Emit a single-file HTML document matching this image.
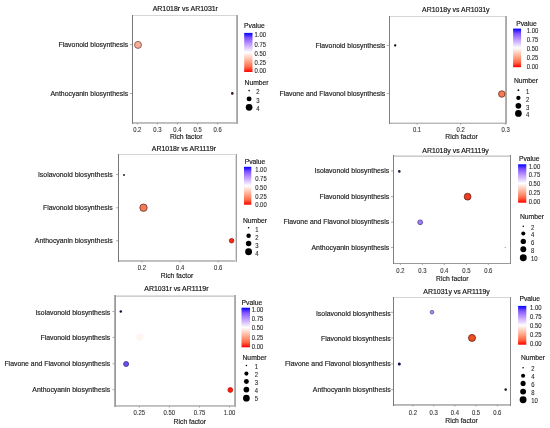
<!DOCTYPE html>
<html><head><meta charset="utf-8"><style>
html,body{margin:0;padding:0;background:#fff;}
body{width:550px;height:428px;overflow:hidden;}
svg{display:block;font-family:"Liberation Sans", Arial, sans-serif;}
</style></head><body>
<svg width="550" height="428" viewBox="0 0 550 428">
<rect width="550" height="428" fill="#fff"/>
<defs><linearGradient id="g" x1="0" y1="1" x2="0" y2="0"><stop offset="0" stop-color="#ff0000"/><stop offset="0.125" stop-color="#ff6846"/><stop offset="0.25" stop-color="#ff9e81"/><stop offset="0.375" stop-color="#ffcfbf"/><stop offset="0.5" stop-color="#ffffff"/><stop offset="0.625" stop-color="#dcc4ff"/><stop offset="0.75" stop-color="#b38bff"/><stop offset="0.875" stop-color="#7e52ff"/><stop offset="1" stop-color="#0000ff"/></linearGradient><filter id="bl" x="-5%" y="-20%" width="110%" height="140%"><feGaussianBlur stdDeviation="0.28"/></filter></defs>
<g><rect x="132" y="15" width="106" height="1" fill="#d6d6d6"/><rect x="132" y="122" width="106" height="1" fill="#bdbdbd"/><rect x="132" y="123" width="106" height="1" fill="#c4c4c4"/><rect x="236" y="15" width="1" height="109" fill="#b4b4b4"/><rect x="237" y="15" width="1" height="109" fill="#a4a4a4"/><rect x="132" y="15" width="1" height="109" fill="#777"/></g>
<g filter="url(#bl)"><text transform="translate(185.3 11.4) scale(0.9091 1)" font-size="7.65" text-anchor="middle" fill="#111" stroke="#111" stroke-width="0.18">AR1018r vs AR1031r</text><text transform="translate(128.3 46.63) scale(0.9091 1)" font-size="7.59" text-anchor="end" fill="#1a1a1a" stroke="#1a1a1a" stroke-width="0.18">Flavonoid biosynthesis</text><line x1="130" y1="44.6" x2="132" y2="44.6" stroke="#888" stroke-width="0.7"/><text transform="translate(128.3 95.53) scale(0.9091 1)" font-size="7.59" text-anchor="end" fill="#1a1a1a" stroke="#1a1a1a" stroke-width="0.18">Anthocyanin biosynthesis</text><line x1="130" y1="93.5" x2="132" y2="93.5" stroke="#888" stroke-width="0.7"/><line x1="137.3" y1="123" x2="137.3" y2="124.5" stroke="#888" stroke-width="0.7"/><text transform="translate(137.3 132.21) scale(0.9091 1)" font-size="6.49" text-anchor="middle" fill="#3a3a3a" stroke="#3a3a3a" stroke-width="0.12">0.2</text><line x1="157.4" y1="123" x2="157.4" y2="124.5" stroke="#888" stroke-width="0.7"/><text transform="translate(157.4 132.21) scale(0.9091 1)" font-size="6.49" text-anchor="middle" fill="#3a3a3a" stroke="#3a3a3a" stroke-width="0.12">0.3</text><line x1="177.4" y1="123" x2="177.4" y2="124.5" stroke="#888" stroke-width="0.7"/><text transform="translate(177.4 132.21) scale(0.9091 1)" font-size="6.49" text-anchor="middle" fill="#3a3a3a" stroke="#3a3a3a" stroke-width="0.12">0.4</text><line x1="197.6" y1="123" x2="197.6" y2="124.5" stroke="#888" stroke-width="0.7"/><text transform="translate(197.6 132.21) scale(0.9091 1)" font-size="6.49" text-anchor="middle" fill="#3a3a3a" stroke="#3a3a3a" stroke-width="0.12">0.5</text><line x1="217.6" y1="123" x2="217.6" y2="124.5" stroke="#888" stroke-width="0.7"/><text transform="translate(217.6 132.21) scale(0.9091 1)" font-size="6.49" text-anchor="middle" fill="#3a3a3a" stroke="#3a3a3a" stroke-width="0.12">0.6</text><text transform="translate(186.2 139.04) scale(0.9091 1)" font-size="7.48" text-anchor="middle" fill="#1a1a1a" stroke="#1a1a1a" stroke-width="0.18">Rich factor</text><circle cx="138" cy="44.9" r="3.5" fill="#f8ad97" stroke="#7a4a40" stroke-width="0.8"/><circle cx="232.3" cy="93.4" r="1.3" fill="#3a0a1a"/><text transform="translate(244 28.32) scale(0.9091 1)" font-size="7.43" fill="#111" stroke="#111" stroke-width="0.15">Pvalue</text><rect x="244.2" y="32.9" width="8.3" height="39.1" fill="url(#g)"/><text transform="translate(254.6 37.01) scale(0.9091 1)" font-size="6.49" fill="#2a2a2a" stroke="#2a2a2a" stroke-width="0.1">1.00</text><text transform="translate(254.6 46.51) scale(0.9091 1)" font-size="6.49" fill="#2a2a2a" stroke="#2a2a2a" stroke-width="0.1">0.75</text><text transform="translate(254.6 56.01) scale(0.9091 1)" font-size="6.49" fill="#2a2a2a" stroke="#2a2a2a" stroke-width="0.1">0.50</text><text transform="translate(254.6 65.21) scale(0.9091 1)" font-size="6.49" fill="#2a2a2a" stroke="#2a2a2a" stroke-width="0.1">0.25</text><text transform="translate(254.6 72.91) scale(0.9091 1)" font-size="6.49" fill="#2a2a2a" stroke="#2a2a2a" stroke-width="0.1">0.00</text><text transform="translate(244.6 85.02) scale(0.9091 1)" font-size="7.43" fill="#111" stroke="#111" stroke-width="0.15">Number</text><circle cx="249.1" cy="90.6" r="0.8" fill="#000"/><text transform="translate(256.2 94.31) scale(0.9091 1)" font-size="6.49" fill="#2a2a2a" stroke="#2a2a2a" stroke-width="0.1">2</text><circle cx="249.1" cy="98.9" r="2.45" fill="#000"/><text transform="translate(256.2 102.61) scale(0.9091 1)" font-size="6.49" fill="#2a2a2a" stroke="#2a2a2a" stroke-width="0.1">3</text><circle cx="249.1" cy="107.3" r="3.35" fill="#000"/><text transform="translate(256.2 111.01) scale(0.9091 1)" font-size="6.49" fill="#2a2a2a" stroke="#2a2a2a" stroke-width="0.1">4</text></g>
<g><rect x="389" y="16" width="118" height="1" fill="#d6d6d6"/><rect x="389" y="122" width="118" height="1" fill="#e0e0e0"/><rect x="389" y="123" width="118" height="1" fill="#b8b8b8"/><rect x="505" y="16" width="1" height="108" fill="#b0b0b0"/><rect x="506" y="16" width="1" height="108" fill="#aaaaaa"/><rect x="389" y="16" width="1" height="108" fill="#808080"/></g>
<g filter="url(#bl)"><text transform="translate(455.8 12.4) scale(0.9091 1)" font-size="7.65" text-anchor="middle" fill="#111" stroke="#111" stroke-width="0.18">AR1018y vs AR1031y</text><text transform="translate(385.3 48.23) scale(0.9091 1)" font-size="7.59" text-anchor="end" fill="#1a1a1a" stroke="#1a1a1a" stroke-width="0.18">Flavonoid biosynthesis</text><line x1="387" y1="45.4" x2="389" y2="45.4" stroke="#888" stroke-width="0.7"/><text transform="translate(385.3 95.63) scale(0.9091 1)" font-size="7.59" text-anchor="end" fill="#1a1a1a" stroke="#1a1a1a" stroke-width="0.18">Flavone and Flavonol biosynthesis</text><line x1="387" y1="93.6" x2="389" y2="93.6" stroke="#888" stroke-width="0.7"/><line x1="417" y1="123.3" x2="417" y2="124.8" stroke="#888" stroke-width="0.7"/><text transform="translate(417 131.91) scale(0.9091 1)" font-size="6.49" text-anchor="middle" fill="#3a3a3a" stroke="#3a3a3a" stroke-width="0.12">0.1</text><line x1="460.7" y1="123.3" x2="460.7" y2="124.8" stroke="#888" stroke-width="0.7"/><text transform="translate(460.7 131.91) scale(0.9091 1)" font-size="6.49" text-anchor="middle" fill="#3a3a3a" stroke="#3a3a3a" stroke-width="0.12">0.2</text><line x1="505.6" y1="123.3" x2="505.6" y2="124.8" stroke="#888" stroke-width="0.7"/><text transform="translate(505.6 131.91) scale(0.9091 1)" font-size="6.49" text-anchor="middle" fill="#3a3a3a" stroke="#3a3a3a" stroke-width="0.12">0.3</text><text transform="translate(461.5 138.84) scale(0.9091 1)" font-size="7.48" text-anchor="middle" fill="#1a1a1a" stroke="#1a1a1a" stroke-width="0.18">Rich factor</text><circle cx="395.2" cy="45.4" r="1.15" fill="#000000"/><circle cx="501.8" cy="94" r="3.25" fill="#f47a55" stroke="#6a3020" stroke-width="0.8"/><text transform="translate(516.2 25.52) scale(0.9091 1)" font-size="7.43" fill="#111" stroke="#111" stroke-width="0.15">Pvalue</text><rect x="513.1" y="28.6" width="8" height="38.6" fill="url(#g)"/><text transform="translate(526.8 32.91) scale(0.9091 1)" font-size="6.49" fill="#2a2a2a" stroke="#2a2a2a" stroke-width="0.1">1.00</text><text transform="translate(526.8 42.21) scale(0.9091 1)" font-size="6.49" fill="#2a2a2a" stroke="#2a2a2a" stroke-width="0.1">0.75</text><text transform="translate(526.8 51.31) scale(0.9091 1)" font-size="6.49" fill="#2a2a2a" stroke="#2a2a2a" stroke-width="0.1">0.50</text><text transform="translate(526.8 60.41) scale(0.9091 1)" font-size="6.49" fill="#2a2a2a" stroke="#2a2a2a" stroke-width="0.1">0.25</text><text transform="translate(526.8 68.81) scale(0.9091 1)" font-size="6.49" fill="#2a2a2a" stroke="#2a2a2a" stroke-width="0.1">0.00</text><text transform="translate(513.9 83.42) scale(0.9091 1)" font-size="7.43" fill="#111" stroke="#111" stroke-width="0.15">Number</text><circle cx="518.4" cy="90.2" r="0.9" fill="#000"/><text transform="translate(526 93.91) scale(0.9091 1)" font-size="6.49" fill="#2a2a2a" stroke="#2a2a2a" stroke-width="0.1">1</text><circle cx="518.4" cy="97.9" r="2.15" fill="#000"/><text transform="translate(526 101.61) scale(0.9091 1)" font-size="6.49" fill="#2a2a2a" stroke="#2a2a2a" stroke-width="0.1">2</text><circle cx="518.4" cy="105.8" r="2.85" fill="#000"/><text transform="translate(526 109.51) scale(0.9091 1)" font-size="6.49" fill="#2a2a2a" stroke="#2a2a2a" stroke-width="0.1">3</text><circle cx="518.4" cy="113.4" r="3.35" fill="#000"/><text transform="translate(526 117.11) scale(0.9091 1)" font-size="6.49" fill="#2a2a2a" stroke="#2a2a2a" stroke-width="0.1">4</text></g>
<g><rect x="118" y="154" width="119" height="1" fill="#d6d6d6"/><rect x="118" y="260" width="119" height="1" fill="#bdbdbd"/><rect x="118" y="261" width="119" height="1" fill="#c4c4c4"/><rect x="235" y="154" width="1" height="108" fill="#dddddd"/><rect x="236" y="154" width="1" height="108" fill="#a0a0a0"/><rect x="118" y="154" width="1" height="108" fill="#777"/></g>
<g filter="url(#bl)"><text transform="translate(183.9 151.4) scale(0.9091 1)" font-size="7.65" text-anchor="middle" fill="#111" stroke="#111" stroke-width="0.18">AR1018r vs AR1119r</text><text transform="translate(112.7 176.63) scale(0.9091 1)" font-size="7.59" text-anchor="end" fill="#1a1a1a" stroke="#1a1a1a" stroke-width="0.18">Isolavonoid biosynthesis</text><line x1="116" y1="174.6" x2="118" y2="174.6" stroke="#888" stroke-width="0.7"/><text transform="translate(112.7 209.83) scale(0.9091 1)" font-size="7.59" text-anchor="end" fill="#1a1a1a" stroke="#1a1a1a" stroke-width="0.18">Flavonoid biosynthesis</text><line x1="116" y1="207.8" x2="118" y2="207.8" stroke="#888" stroke-width="0.7"/><text transform="translate(112.7 242.83) scale(0.9091 1)" font-size="7.59" text-anchor="end" fill="#1a1a1a" stroke="#1a1a1a" stroke-width="0.18">Anthocyanin biosynthesis</text><line x1="116" y1="240.8" x2="118" y2="240.8" stroke="#888" stroke-width="0.7"/><line x1="141.9" y1="261" x2="141.9" y2="262.5" stroke="#888" stroke-width="0.7"/><text transform="translate(141.9 270.41) scale(0.9091 1)" font-size="6.49" text-anchor="middle" fill="#3a3a3a" stroke="#3a3a3a" stroke-width="0.12">0.2</text><line x1="180.2" y1="261" x2="180.2" y2="262.5" stroke="#888" stroke-width="0.7"/><text transform="translate(180.2 270.41) scale(0.9091 1)" font-size="6.49" text-anchor="middle" fill="#3a3a3a" stroke="#3a3a3a" stroke-width="0.12">0.4</text><line x1="218.2" y1="261" x2="218.2" y2="262.5" stroke="#888" stroke-width="0.7"/><text transform="translate(218.2 270.41) scale(0.9091 1)" font-size="6.49" text-anchor="middle" fill="#3a3a3a" stroke="#3a3a3a" stroke-width="0.12">0.6</text><text transform="translate(177 277.84) scale(0.9091 1)" font-size="7.48" text-anchor="middle" fill="#1a1a1a" stroke="#1a1a1a" stroke-width="0.18">Rich factor</text><circle cx="124" cy="175" r="1" fill="#222222"/><circle cx="143.5" cy="207.7" r="3.7" fill="#f47a5a" stroke="#6a3020" stroke-width="0.8"/><circle cx="231.6" cy="240.7" r="2.25" fill="#ff2a10" stroke="#8a1a10" stroke-width="0.8"/><text transform="translate(244.7 164.42) scale(0.9091 1)" font-size="7.43" fill="#111" stroke="#111" stroke-width="0.15">Pvalue</text><rect x="244" y="166.8" width="7.3" height="37.9" fill="url(#g)"/><text transform="translate(255.2 172.21) scale(0.9091 1)" font-size="6.49" fill="#2a2a2a" stroke="#2a2a2a" stroke-width="0.1">1.00</text><text transform="translate(255.2 181.01) scale(0.9091 1)" font-size="6.49" fill="#2a2a2a" stroke="#2a2a2a" stroke-width="0.1">0.75</text><text transform="translate(255.2 190.11) scale(0.9091 1)" font-size="6.49" fill="#2a2a2a" stroke="#2a2a2a" stroke-width="0.1">0.50</text><text transform="translate(255.2 199.21) scale(0.9091 1)" font-size="6.49" fill="#2a2a2a" stroke="#2a2a2a" stroke-width="0.1">0.25</text><text transform="translate(255.2 206.91) scale(0.9091 1)" font-size="6.49" fill="#2a2a2a" stroke="#2a2a2a" stroke-width="0.1">0.00</text><text transform="translate(242.9 223.02) scale(0.9091 1)" font-size="7.43" fill="#111" stroke="#111" stroke-width="0.15">Number</text><circle cx="248.6" cy="227.8" r="0.8" fill="#000"/><text transform="translate(255.2 231.81) scale(0.9091 1)" font-size="6.49" fill="#2a2a2a" stroke="#2a2a2a" stroke-width="0.1">1</text><circle cx="248.6" cy="235.7" r="2.25" fill="#000"/><text transform="translate(255.2 239.71) scale(0.9091 1)" font-size="6.49" fill="#2a2a2a" stroke="#2a2a2a" stroke-width="0.1">2</text><circle cx="248.6" cy="243.6" r="2.75" fill="#000"/><text transform="translate(255.2 247.61) scale(0.9091 1)" font-size="6.49" fill="#2a2a2a" stroke="#2a2a2a" stroke-width="0.1">3</text><circle cx="248.6" cy="251.7" r="3.45" fill="#000"/><text transform="translate(255.2 255.71) scale(0.9091 1)" font-size="6.49" fill="#2a2a2a" stroke="#2a2a2a" stroke-width="0.1">4</text></g>
<g><rect x="393" y="155" width="118" height="1" fill="#e0e0e0"/><rect x="393" y="156" width="118" height="1" fill="#cccccc"/><rect x="393" y="263" width="118" height="1" fill="#9a9a9a"/><rect x="510" y="155" width="1" height="109" fill="#8a8a8a"/><rect x="393" y="155" width="1" height="109" fill="#808080"/></g>
<g filter="url(#bl)"><text transform="translate(455.5 152.6) scale(0.9091 1)" font-size="7.65" text-anchor="middle" fill="#111" stroke="#111" stroke-width="0.18">AR1018y vs AR1119y</text><text transform="translate(389.3 173.03) scale(0.9091 1)" font-size="7.59" text-anchor="end" fill="#1a1a1a" stroke="#1a1a1a" stroke-width="0.18">Isolavonoid biosynthesis</text><line x1="391" y1="171" x2="393" y2="171" stroke="#888" stroke-width="0.7"/><text transform="translate(389.3 198.63) scale(0.9091 1)" font-size="7.59" text-anchor="end" fill="#1a1a1a" stroke="#1a1a1a" stroke-width="0.18">Flavonoid biosynthesis</text><line x1="391" y1="196.6" x2="393" y2="196.6" stroke="#888" stroke-width="0.7"/><text transform="translate(389.3 224.23) scale(0.9091 1)" font-size="7.59" text-anchor="end" fill="#1a1a1a" stroke="#1a1a1a" stroke-width="0.18">Flavone and Flavonol biosynthesis</text><line x1="391" y1="222.2" x2="393" y2="222.2" stroke="#888" stroke-width="0.7"/><text transform="translate(389.3 249.63) scale(0.9091 1)" font-size="7.59" text-anchor="end" fill="#1a1a1a" stroke="#1a1a1a" stroke-width="0.18">Anthocyanin biosynthesis</text><line x1="391" y1="247.6" x2="393" y2="247.6" stroke="#888" stroke-width="0.7"/><line x1="400.4" y1="263.5" x2="400.4" y2="265" stroke="#888" stroke-width="0.7"/><text transform="translate(400.4 272.91) scale(0.9091 1)" font-size="6.49" text-anchor="middle" fill="#3a3a3a" stroke="#3a3a3a" stroke-width="0.12">0.2</text><line x1="422.4" y1="263.5" x2="422.4" y2="265" stroke="#888" stroke-width="0.7"/><text transform="translate(422.4 272.91) scale(0.9091 1)" font-size="6.49" text-anchor="middle" fill="#3a3a3a" stroke="#3a3a3a" stroke-width="0.12">0.3</text><line x1="444.3" y1="263.5" x2="444.3" y2="265" stroke="#888" stroke-width="0.7"/><text transform="translate(444.3 272.91) scale(0.9091 1)" font-size="6.49" text-anchor="middle" fill="#3a3a3a" stroke="#3a3a3a" stroke-width="0.12">0.4</text><line x1="466.4" y1="263.5" x2="466.4" y2="265" stroke="#888" stroke-width="0.7"/><text transform="translate(466.4 272.91) scale(0.9091 1)" font-size="6.49" text-anchor="middle" fill="#3a3a3a" stroke="#3a3a3a" stroke-width="0.12">0.5</text><line x1="488.3" y1="263.5" x2="488.3" y2="265" stroke="#888" stroke-width="0.7"/><text transform="translate(488.3 272.91) scale(0.9091 1)" font-size="6.49" text-anchor="middle" fill="#3a3a3a" stroke="#3a3a3a" stroke-width="0.12">0.6</text><text transform="translate(452.3 280.84) scale(0.9091 1)" font-size="7.48" text-anchor="middle" fill="#1a1a1a" stroke="#1a1a1a" stroke-width="0.18">Rich factor</text><circle cx="399.3" cy="171.4" r="1.3" fill="#1a1a3a"/><circle cx="467.6" cy="196.7" r="3.4" fill="#f03a20" stroke="#6a2010" stroke-width="0.8"/><circle cx="420.2" cy="222.3" r="2.4" fill="#a080f0" stroke="#4a3a9a" stroke-width="0.8"/><circle cx="505.3" cy="247.5" r="0.8" fill="#e0a0a0"/><text transform="translate(518.9 160.72) scale(0.9091 1)" font-size="7.43" fill="#111" stroke="#111" stroke-width="0.15">Pvalue</text><rect x="518.1" y="164.3" width="8.2" height="38.4" fill="url(#g)"/><text transform="translate(528.7 168.51) scale(0.9091 1)" font-size="6.49" fill="#2a2a2a" stroke="#2a2a2a" stroke-width="0.1">1.00</text><text transform="translate(528.7 177.41) scale(0.9091 1)" font-size="6.49" fill="#2a2a2a" stroke="#2a2a2a" stroke-width="0.1">0.75</text><text transform="translate(528.7 186.31) scale(0.9091 1)" font-size="6.49" fill="#2a2a2a" stroke="#2a2a2a" stroke-width="0.1">0.50</text><text transform="translate(528.7 195.21) scale(0.9091 1)" font-size="6.49" fill="#2a2a2a" stroke="#2a2a2a" stroke-width="0.1">0.25</text><text transform="translate(528.7 204.11) scale(0.9091 1)" font-size="6.49" fill="#2a2a2a" stroke="#2a2a2a" stroke-width="0.1">0.00</text><text transform="translate(519.9 219.42) scale(0.9091 1)" font-size="7.43" fill="#111" stroke="#111" stroke-width="0.15">Number</text><circle cx="523.3" cy="226.2" r="0.8" fill="#000"/><text transform="translate(530.9 229.61) scale(0.9091 1)" font-size="6.49" fill="#2a2a2a" stroke="#2a2a2a" stroke-width="0.1">2</text><circle cx="523.3" cy="233.5" r="2.05" fill="#000"/><text transform="translate(530.9 236.91) scale(0.9091 1)" font-size="6.49" fill="#2a2a2a" stroke="#2a2a2a" stroke-width="0.1">4</text><circle cx="523.3" cy="241.4" r="2.65" fill="#000"/><text transform="translate(530.9 244.81) scale(0.9091 1)" font-size="6.49" fill="#2a2a2a" stroke="#2a2a2a" stroke-width="0.1">6</text><circle cx="523.3" cy="249.3" r="2.95" fill="#000"/><text transform="translate(530.9 252.71) scale(0.9091 1)" font-size="6.49" fill="#2a2a2a" stroke="#2a2a2a" stroke-width="0.1">8</text><circle cx="523.3" cy="257.7" r="3.45" fill="#000"/><text transform="translate(530.9 261.11) scale(0.9091 1)" font-size="6.49" fill="#2a2a2a" stroke="#2a2a2a" stroke-width="0.1">10</text></g>
<g><rect x="114" y="295" width="122" height="1" fill="#e0e0e0"/><rect x="114" y="296" width="122" height="1" fill="#d0d0d0"/><rect x="114" y="405" width="122" height="1" fill="#bdbdbd"/><rect x="114" y="406" width="122" height="1" fill="#c8c8c8"/><rect x="234" y="295" width="1" height="112" fill="#b4b4b4"/><rect x="235" y="295" width="1" height="112" fill="#a8a8a8"/><rect x="114" y="295" width="1" height="112" fill="#b0b0b0"/><rect x="115" y="295" width="1" height="112" fill="#9a9a9a"/></g>
<g filter="url(#bl)"><text transform="translate(176.4 291) scale(0.9091 1)" font-size="7.65" text-anchor="middle" fill="#111" stroke="#111" stroke-width="0.18">AR1031r vs AR1119r</text><text transform="translate(110.2 315.13) scale(0.9091 1)" font-size="7.59" text-anchor="end" fill="#1a1a1a" stroke="#1a1a1a" stroke-width="0.18">Isolavonoid biosynthesis</text><line x1="112.5" y1="311.5" x2="114.5" y2="311.5" stroke="#888" stroke-width="0.7"/><text transform="translate(110.2 339.93) scale(0.9091 1)" font-size="7.59" text-anchor="end" fill="#1a1a1a" stroke="#1a1a1a" stroke-width="0.18">Flavonoid biosynthesis</text><line x1="112.5" y1="337.4" x2="114.5" y2="337.4" stroke="#888" stroke-width="0.7"/><text transform="translate(110.2 365.83) scale(0.9091 1)" font-size="7.59" text-anchor="end" fill="#1a1a1a" stroke="#1a1a1a" stroke-width="0.18">Flavone and Flavonol biosynthesis</text><line x1="112.5" y1="363.7" x2="114.5" y2="363.7" stroke="#888" stroke-width="0.7"/><text transform="translate(110.2 391.73) scale(0.9091 1)" font-size="7.59" text-anchor="end" fill="#1a1a1a" stroke="#1a1a1a" stroke-width="0.18">Anthocyanin biosynthesis</text><line x1="112.5" y1="389.7" x2="114.5" y2="389.7" stroke="#888" stroke-width="0.7"/><line x1="139.3" y1="406" x2="139.3" y2="407.5" stroke="#888" stroke-width="0.7"/><text transform="translate(139.3 415.41) scale(0.9091 1)" font-size="6.49" text-anchor="middle" fill="#3a3a3a" stroke="#3a3a3a" stroke-width="0.12">0.25</text><line x1="169.3" y1="406" x2="169.3" y2="407.5" stroke="#888" stroke-width="0.7"/><text transform="translate(169.3 415.41) scale(0.9091 1)" font-size="6.49" text-anchor="middle" fill="#3a3a3a" stroke="#3a3a3a" stroke-width="0.12">0.50</text><line x1="199.5" y1="406" x2="199.5" y2="407.5" stroke="#888" stroke-width="0.7"/><text transform="translate(199.5 415.41) scale(0.9091 1)" font-size="6.49" text-anchor="middle" fill="#3a3a3a" stroke="#3a3a3a" stroke-width="0.12">0.75</text><line x1="229.5" y1="406" x2="229.5" y2="407.5" stroke="#888" stroke-width="0.7"/><text transform="translate(229.5 415.41) scale(0.9091 1)" font-size="6.49" text-anchor="middle" fill="#3a3a3a" stroke="#3a3a3a" stroke-width="0.12">1.00</text><text transform="translate(189.8 423.54) scale(0.9091 1)" font-size="7.48" text-anchor="middle" fill="#1a1a1a" stroke="#1a1a1a" stroke-width="0.18">Rich factor</text><circle cx="120.8" cy="311.6" r="1.25" fill="#101040"/><circle cx="139.7" cy="337.2" r="3.4" fill="#fff6f4" stroke="#fff6f4" stroke-width="0.8"/><circle cx="126.1" cy="364" r="2.5" fill="#7050f0" stroke="#3a2a8a" stroke-width="0.8"/><circle cx="230.3" cy="390" r="2.4" fill="#ff1a0a" stroke="#c01008" stroke-width="0.8"/><text transform="translate(241.5 304.82) scale(0.9091 1)" font-size="7.43" fill="#111" stroke="#111" stroke-width="0.15">Pvalue</text><rect x="241.5" y="307.7" width="8.5" height="39.6" fill="url(#g)"/><text transform="translate(251.8 311.91) scale(0.9091 1)" font-size="6.49" fill="#2a2a2a" stroke="#2a2a2a" stroke-width="0.1">1.00</text><text transform="translate(251.8 321.11) scale(0.9091 1)" font-size="6.49" fill="#2a2a2a" stroke="#2a2a2a" stroke-width="0.1">0.75</text><text transform="translate(251.8 330.31) scale(0.9091 1)" font-size="6.49" fill="#2a2a2a" stroke="#2a2a2a" stroke-width="0.1">0.50</text><text transform="translate(251.8 339.51) scale(0.9091 1)" font-size="6.49" fill="#2a2a2a" stroke="#2a2a2a" stroke-width="0.1">0.25</text><text transform="translate(251.8 348.71) scale(0.9091 1)" font-size="6.49" fill="#2a2a2a" stroke="#2a2a2a" stroke-width="0.1">0.00</text><text transform="translate(242.5 359.52) scale(0.9091 1)" font-size="7.43" fill="#111" stroke="#111" stroke-width="0.15">Number</text><circle cx="246.4" cy="365.5" r="0.8" fill="#000"/><text transform="translate(254.8 368.61) scale(0.9091 1)" font-size="6.49" fill="#2a2a2a" stroke="#2a2a2a" stroke-width="0.1">1</text><circle cx="246.4" cy="373.6" r="2.05" fill="#000"/><text transform="translate(254.8 376.71) scale(0.9091 1)" font-size="6.49" fill="#2a2a2a" stroke="#2a2a2a" stroke-width="0.1">2</text><circle cx="246.4" cy="381.5" r="2.45" fill="#000"/><text transform="translate(254.8 384.61) scale(0.9091 1)" font-size="6.49" fill="#2a2a2a" stroke="#2a2a2a" stroke-width="0.1">3</text><circle cx="246.4" cy="389.6" r="2.85" fill="#000"/><text transform="translate(254.8 392.71) scale(0.9091 1)" font-size="6.49" fill="#2a2a2a" stroke="#2a2a2a" stroke-width="0.1">4</text><circle cx="246.4" cy="398.2" r="3.35" fill="#000"/><text transform="translate(254.8 401.31) scale(0.9091 1)" font-size="6.49" fill="#2a2a2a" stroke="#2a2a2a" stroke-width="0.1">5</text></g>
<g><rect x="393" y="297" width="118" height="1" fill="#d6d6d6"/><rect x="393" y="404" width="118" height="1" fill="#b4b4b4"/><rect x="393" y="405" width="118" height="1" fill="#c0c0c0"/><rect x="510" y="297" width="1" height="109" fill="#8a8a8a"/><rect x="393" y="297" width="1" height="109" fill="#7a7a7a"/></g>
<g filter="url(#bl)"><text transform="translate(456.6 294.4) scale(0.9091 1)" font-size="7.65" text-anchor="middle" fill="#111" stroke="#111" stroke-width="0.18">AR1031y vs AR1119y</text><text transform="translate(390.7 315.53) scale(0.9091 1)" font-size="7.59" text-anchor="end" fill="#1a1a1a" stroke="#1a1a1a" stroke-width="0.18">Isolavonoid biosynthesis</text><line x1="391" y1="312.3" x2="393" y2="312.3" stroke="#888" stroke-width="0.7"/><text transform="translate(390.7 340.63) scale(0.9091 1)" font-size="7.59" text-anchor="end" fill="#1a1a1a" stroke="#1a1a1a" stroke-width="0.18">Flavonoid biosynthesis</text><line x1="391" y1="338" x2="393" y2="338" stroke="#888" stroke-width="0.7"/><text transform="translate(390.7 366.43) scale(0.9091 1)" font-size="7.59" text-anchor="end" fill="#1a1a1a" stroke="#1a1a1a" stroke-width="0.18">Flavone and Flavonol biosynthesis</text><line x1="391" y1="363.9" x2="393" y2="363.9" stroke="#888" stroke-width="0.7"/><text transform="translate(390.7 392.03) scale(0.9091 1)" font-size="7.59" text-anchor="end" fill="#1a1a1a" stroke="#1a1a1a" stroke-width="0.18">Anthocyanin biosynthesis</text><line x1="391" y1="389.6" x2="393" y2="389.6" stroke="#888" stroke-width="0.7"/><line x1="412.9" y1="405" x2="412.9" y2="406.5" stroke="#888" stroke-width="0.7"/><text transform="translate(412.9 414.81) scale(0.9091 1)" font-size="6.49" text-anchor="middle" fill="#3a3a3a" stroke="#3a3a3a" stroke-width="0.12">0.2</text><line x1="433.7" y1="405" x2="433.7" y2="406.5" stroke="#888" stroke-width="0.7"/><text transform="translate(433.7 414.81) scale(0.9091 1)" font-size="6.49" text-anchor="middle" fill="#3a3a3a" stroke="#3a3a3a" stroke-width="0.12">0.3</text><line x1="454.9" y1="405" x2="454.9" y2="406.5" stroke="#888" stroke-width="0.7"/><text transform="translate(454.9 414.81) scale(0.9091 1)" font-size="6.49" text-anchor="middle" fill="#3a3a3a" stroke="#3a3a3a" stroke-width="0.12">0.4</text><line x1="476" y1="405" x2="476" y2="406.5" stroke="#888" stroke-width="0.7"/><text transform="translate(476 414.81) scale(0.9091 1)" font-size="6.49" text-anchor="middle" fill="#3a3a3a" stroke="#3a3a3a" stroke-width="0.12">0.5</text><line x1="497.3" y1="405" x2="497.3" y2="406.5" stroke="#888" stroke-width="0.7"/><text transform="translate(497.3 414.81) scale(0.9091 1)" font-size="6.49" text-anchor="middle" fill="#3a3a3a" stroke="#3a3a3a" stroke-width="0.12">0.6</text><text transform="translate(461.5 422.94) scale(0.9091 1)" font-size="7.48" text-anchor="middle" fill="#1a1a1a" stroke="#1a1a1a" stroke-width="0.18">Rich factor</text><circle cx="432" cy="312.2" r="1.8" fill="#a090e8" stroke="#5a4aa8" stroke-width="0.8"/><circle cx="472" cy="337.9" r="3.5" fill="#f05020" stroke="#602010" stroke-width="0.8"/><circle cx="399.3" cy="363.9" r="1.5" fill="#100a50"/><circle cx="505.7" cy="389.6" r="1.3" fill="#222222"/><text transform="translate(519.4 300.62) scale(0.9091 1)" font-size="7.43" fill="#111" stroke="#111" stroke-width="0.15">Pvalue</text><rect x="518.1" y="305.9" width="8.2" height="38.8" fill="url(#g)"/><text transform="translate(530 310.11) scale(0.9091 1)" font-size="6.49" fill="#2a2a2a" stroke="#2a2a2a" stroke-width="0.1">1.00</text><text transform="translate(530 319.11) scale(0.9091 1)" font-size="6.49" fill="#2a2a2a" stroke="#2a2a2a" stroke-width="0.1">0.75</text><text transform="translate(530 328.11) scale(0.9091 1)" font-size="6.49" fill="#2a2a2a" stroke="#2a2a2a" stroke-width="0.1">0.50</text><text transform="translate(530 337.11) scale(0.9091 1)" font-size="6.49" fill="#2a2a2a" stroke="#2a2a2a" stroke-width="0.1">0.25</text><text transform="translate(530 346.11) scale(0.9091 1)" font-size="6.49" fill="#2a2a2a" stroke="#2a2a2a" stroke-width="0.1">0.00</text><text transform="translate(520.9 360.22) scale(0.9091 1)" font-size="7.43" fill="#111" stroke="#111" stroke-width="0.15">Number</text><circle cx="523.1" cy="367.8" r="0.8" fill="#000"/><text transform="translate(531.2 371.41) scale(0.9091 1)" font-size="6.49" fill="#2a2a2a" stroke="#2a2a2a" stroke-width="0.1">2</text><circle cx="523.1" cy="375.7" r="2.05" fill="#000"/><text transform="translate(531.2 379.31) scale(0.9091 1)" font-size="6.49" fill="#2a2a2a" stroke="#2a2a2a" stroke-width="0.1">4</text><circle cx="523.1" cy="383.4" r="2.55" fill="#000"/><text transform="translate(531.2 387.01) scale(0.9091 1)" font-size="6.49" fill="#2a2a2a" stroke="#2a2a2a" stroke-width="0.1">6</text><circle cx="523.1" cy="391.6" r="2.95" fill="#000"/><text transform="translate(531.2 395.21) scale(0.9091 1)" font-size="6.49" fill="#2a2a2a" stroke="#2a2a2a" stroke-width="0.1">8</text><circle cx="523.1" cy="399.7" r="3.45" fill="#000"/><text transform="translate(531.2 403.31) scale(0.9091 1)" font-size="6.49" fill="#2a2a2a" stroke="#2a2a2a" stroke-width="0.1">10</text></g>
</svg>
</body></html>
